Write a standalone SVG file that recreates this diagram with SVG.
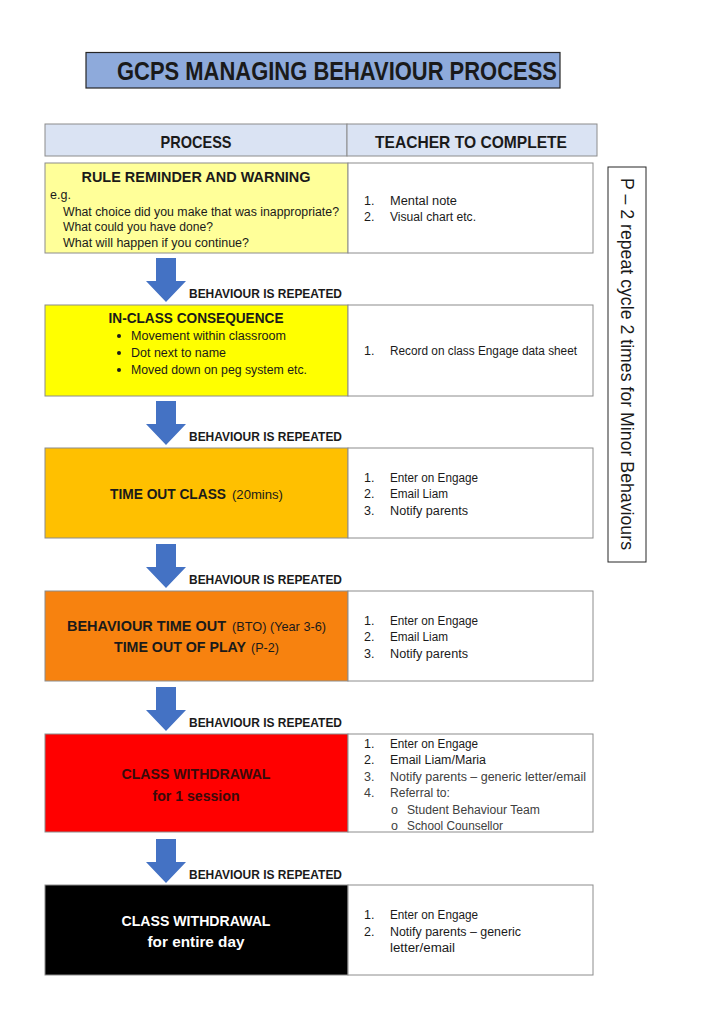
<svg xmlns="http://www.w3.org/2000/svg" width="724" height="1024" viewBox="0 0 724 1024">
<style>
text{font-family:"Liberation Sans",Arial,sans-serif;fill:#1a1a1a}
.b{font-weight:bold}
.h{font-size:15.5px;font-weight:bold}
.h2{font-size:14px;font-weight:bold}
.s{font-size:13px}
.t{font-size:12.5px}
.lbl{font-size:12.5px;font-weight:bold}
.cell{stroke:#8c8c8c;stroke-width:1}
.arrow{fill:#4472C4}
.mid{text-anchor:middle}
</style>
<defs>
<path id="arr" d="M-10,0 H10 V23 H20 L0,44 L-20,23 H-10 Z"/>
</defs>
<rect width="724" height="1024" fill="#ffffff"/>

<g id="title">
<rect x="86" y="52.5" width="474" height="35.5" fill="#8EAADB" stroke="#262626" stroke-width="1.2"/>
<text x="117" y="80" font-size="25" class="b" textLength="440" lengthAdjust="spacingAndGlyphs">GCPS MANAGING BEHAVIOUR PROCESS</text>
</g>

<g id="header">
<rect x="45" y="124" width="302" height="32" fill="#DAE3F3" class="cell"/>
<rect x="347" y="124" width="250" height="32" fill="#DAE3F3" class="cell"/>
<text x="196" y="148" font-size="17" class="b mid" textLength="71" lengthAdjust="spacingAndGlyphs">PROCESS</text>
<text x="471" y="148" font-size="17" class="b mid" textLength="192" lengthAdjust="spacingAndGlyphs">TEACHER TO COMPLETE</text>
</g>

<g id="side-note">
<rect x="608" y="167" width="38" height="395" fill="#ffffff" stroke="#262626" stroke-width="1"/>
<text transform="translate(621,364) rotate(90)" font-size="17.5" class="mid" textLength="372" lengthAdjust="spacingAndGlyphs">P – 2 repeat cycle 2 times for Minor Behaviours</text>
</g>

<g id="connectors">
<use href="#arr" x="166" y="258" class="arrow"/>
<text x="189" y="298" class="lbl" textLength="153" lengthAdjust="spacingAndGlyphs">BEHAVIOUR IS REPEATED</text>
<use href="#arr" x="166" y="401" class="arrow"/>
<text x="189" y="441" class="lbl" textLength="153" lengthAdjust="spacingAndGlyphs">BEHAVIOUR IS REPEATED</text>
<use href="#arr" x="166" y="544" class="arrow"/>
<text x="189" y="584" class="lbl" textLength="153" lengthAdjust="spacingAndGlyphs">BEHAVIOUR IS REPEATED</text>
<use href="#arr" x="166" y="687" class="arrow"/>
<text x="189" y="727" class="lbl" textLength="153" lengthAdjust="spacingAndGlyphs">BEHAVIOUR IS REPEATED</text>
<use href="#arr" x="166" y="839" class="arrow"/>
<text x="189" y="879" class="lbl" textLength="153" lengthAdjust="spacingAndGlyphs">BEHAVIOUR IS REPEATED</text>
</g>

<g id="step1">
<rect x="45" y="163" width="303" height="90" fill="#FFFF99" class="cell"/>
<rect x="348" y="163" width="245" height="90" fill="#ffffff" class="cell"/>
<text x="196" y="182" class="h mid" textLength="229" lengthAdjust="spacingAndGlyphs">RULE REMINDER AND WARNING</text>
<text x="50" y="199" class="t">e.g.</text>
<text x="63" y="216" class="t" textLength="276" lengthAdjust="spacingAndGlyphs">What choice did you make that was inappropriate?</text>
<text x="63" y="231" class="t" textLength="150" lengthAdjust="spacingAndGlyphs">What could you have done?</text>
<text x="63" y="247" class="t" textLength="186" lengthAdjust="spacingAndGlyphs">What will happen if you continue?</text>
<text x="364" y="205" class="t">1.</text>
<text x="390" y="205" class="t" textLength="67" lengthAdjust="spacingAndGlyphs">Mental note</text>
<text x="364" y="221" class="t">2.</text>
<text x="390" y="221" class="t" textLength="86" lengthAdjust="spacingAndGlyphs">Visual chart etc.</text>
</g>

<g id="step2">
<rect x="45" y="305" width="303" height="91" fill="#FFFF00" class="cell"/>
<rect x="348" y="305" width="245" height="91" fill="#ffffff" class="cell"/>
<text x="196" y="323" class="h mid" textLength="175" lengthAdjust="spacingAndGlyphs">IN-CLASS CONSEQUENCE</text>
<circle cx="119" cy="336" r="2" fill="#1a1a1a"/>
<circle cx="119" cy="353" r="2" fill="#1a1a1a"/>
<circle cx="119" cy="370" r="2" fill="#1a1a1a"/>
<text x="131" y="340" class="t" textLength="155" lengthAdjust="spacingAndGlyphs">Movement within classroom</text>
<text x="131" y="357" class="t" textLength="95" lengthAdjust="spacingAndGlyphs">Dot next to name</text>
<text x="131" y="374" class="t" textLength="176" lengthAdjust="spacingAndGlyphs">Moved down on peg system etc.</text>
<text x="364" y="355" class="t">1.</text>
<text x="390" y="355" class="t" textLength="187" lengthAdjust="spacingAndGlyphs">Record on class Engage data sheet</text>
</g>

<g id="step3">
<rect x="45" y="448" width="303" height="90" fill="#FFC000" class="cell"/>
<rect x="348" y="448" width="245" height="90" fill="#ffffff" class="cell"/>
<text x="110" y="499" class="h2" textLength="116" lengthAdjust="spacingAndGlyphs">TIME OUT CLASS</text>
<text x="232" y="499" class="s" textLength="51" lengthAdjust="spacingAndGlyphs">(20mins)</text>
<text x="364" y="482" class="t">1.</text>
<text x="390" y="482" class="t" textLength="88" lengthAdjust="spacingAndGlyphs">Enter on Engage</text>
<text x="364" y="498" class="t">2.</text>
<text x="390" y="498" class="t" textLength="58" lengthAdjust="spacingAndGlyphs">Email Liam</text>
<text x="364" y="515" class="t">3.</text>
<text x="390" y="515" class="t" textLength="78" lengthAdjust="spacingAndGlyphs">Notify parents</text>
</g>

<g id="step4">
<rect x="45" y="591" width="303" height="90" fill="#F7820F" class="cell"/>
<rect x="348" y="591" width="245" height="90" fill="#ffffff" class="cell"/>
<text x="67" y="631" class="h2" textLength="159" lengthAdjust="spacingAndGlyphs">BEHAVIOUR TIME OUT</text>
<text x="232" y="631" class="s" textLength="94" lengthAdjust="spacingAndGlyphs">(BTO) (Year 3-6)</text>
<text x="114" y="652" class="h2" textLength="132" lengthAdjust="spacingAndGlyphs">TIME OUT OF PLAY</text>
<text x="251" y="652" class="s" textLength="28" lengthAdjust="spacingAndGlyphs">(P-2)</text>
<text x="364" y="625" class="t">1.</text>
<text x="390" y="625" class="t" textLength="88" lengthAdjust="spacingAndGlyphs">Enter on Engage</text>
<text x="364" y="641" class="t">2.</text>
<text x="390" y="641" class="t" textLength="58" lengthAdjust="spacingAndGlyphs">Email Liam</text>
<text x="364" y="658" class="t">3.</text>
<text x="390" y="658" class="t" textLength="78" lengthAdjust="spacingAndGlyphs">Notify parents</text>
</g>

<g id="step5">
<rect x="45" y="734" width="303" height="98" fill="#FF0000" class="cell"/>
<rect x="348" y="734" width="245" height="98" fill="#ffffff" class="cell"/>
<text x="196" y="779" class="h mid" style="fill:#3a0a0a" textLength="149" lengthAdjust="spacingAndGlyphs">CLASS WITHDRAWAL</text>
<text x="196" y="801" class="h mid" style="fill:#3a0a0a" textLength="87" lengthAdjust="spacingAndGlyphs">for 1 session</text>
<text x="364" y="748" class="t">1.</text>
<text x="390" y="748" class="t" textLength="88" lengthAdjust="spacingAndGlyphs">Enter on Engage</text>
<text x="364" y="764" class="t">2.</text>
<text x="390" y="764" class="t" textLength="96" lengthAdjust="spacingAndGlyphs">Email Liam/Maria</text>
<text x="364" y="781" class="t" style="fill:#404040">3.</text>
<text x="390" y="781" class="t" style="fill:#404040" textLength="196" lengthAdjust="spacingAndGlyphs">Notify parents – generic letter/email</text>
<text x="364" y="797" class="t" style="fill:#404040">4.</text>
<text x="390" y="797" class="t" style="fill:#404040" textLength="60" lengthAdjust="spacingAndGlyphs">Referral to:</text>
<text x="391" y="814" class="t" style="fill:#404040">o</text>
<text x="407" y="814" class="t" style="fill:#404040" textLength="133" lengthAdjust="spacingAndGlyphs">Student Behaviour Team</text>
<text x="391" y="830" class="t" style="fill:#404040">o</text>
<text x="407" y="830" class="t" style="fill:#404040" textLength="96" lengthAdjust="spacingAndGlyphs">School Counsellor</text>
</g>

<g id="step6">
<rect x="45" y="885" width="303" height="90" fill="#000000" class="cell"/>
<rect x="348" y="885" width="245" height="90" fill="#ffffff" class="cell"/>
<text x="196" y="926" class="h mid" style="fill:#ffffff" textLength="149" lengthAdjust="spacingAndGlyphs">CLASS WITHDRAWAL</text>
<text x="196" y="947" class="h mid" style="fill:#ffffff" textLength="97" lengthAdjust="spacingAndGlyphs">for entire day</text>
<text x="364" y="919" class="t">1.</text>
<text x="390" y="919" class="t" textLength="88" lengthAdjust="spacingAndGlyphs">Enter on Engage</text>
<text x="364" y="936" class="t">2.</text>
<text x="390" y="936" class="t" textLength="131" lengthAdjust="spacingAndGlyphs">Notify parents – generic</text>
<text x="390" y="952" class="t" textLength="65" lengthAdjust="spacingAndGlyphs">letter/email</text>
</g>
</svg>
